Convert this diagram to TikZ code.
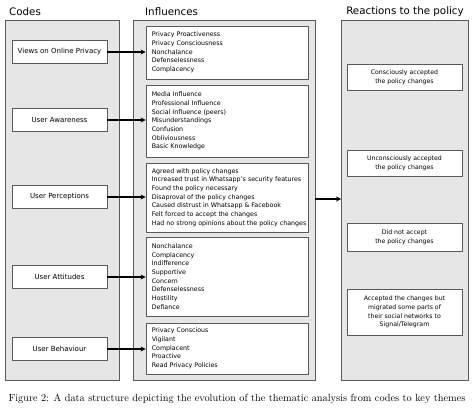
\documentclass[tikz,border=0pt]{standalone}
\usepackage{fontspec}
\setmainfont{DejaVu Sans}
\newfontfamily\capfont{Latin Modern Roman}
\usetikzlibrary{arrows.meta}
\definecolor{panelgray}{HTML}{E6E6E6}
\definecolor{edgegray}{HTML}{5A5A5A}
\begin{document}
\begin{tikzpicture}[x=1pt,y=-1pt,
  panel/.style={draw=edgegray,fill=panelgray,line width=0.8pt},
  codebox/.style={draw=edgegray,fill=white,line width=0.8pt,minimum width=95pt,minimum height=23pt,inner sep=0pt,font=\fontsize{7}{8}\selectfont},
  inflbox/.style={draw=edgegray,fill=white,line width=0.8pt,minimum width=162pt,inner sep=0pt},
  infltext/.style={anchor=west,inner sep=0pt,align=left,font=\fontsize{6.3}{8.7}\selectfont},
  reactbox/.style={draw=edgegray,fill=white,line width=0.8pt,minimum width=115pt,inner sep=0pt,align=center,font=\fontsize{6.2}{8.7}\selectfont},
  title/.style={font=\fontsize{10.3}{12}\selectfont,inner sep=0pt},
  link/.style={-{Stealth[length=5pt,width=5pt]},line width=1.4pt,black}]
\useasboundingbox (0,0) rectangle (474,409);
% panels
\path[panel] (5,20) rectangle (119,380);
\path[panel] (133,20) rectangle (315,380);
\path[panel] (341,20) rectangle (468,380);
\coordinate (pinfl) at (315,199);
\coordinate (preac) at (341,199);
% titles
\node[title,anchor=west] (tcodes) at (9,12) {Codes};
\node[title,anchor=west] (tinfl) at (145,12) {Influences};
\node[title] (treac) at (405,12) {Reactions to the policy};
% code boxes
\node[codebox] (c1) at (59.5,52) {Views on Online Privacy};
\node[codebox] (c2) at (59.5,120) {User Awareness};
\node[codebox] (c3) at (59.5,197) {User Perceptions};
\node[codebox] (c4) at (59.5,277) {User Attitudes};
\node[codebox] (c5) at (59.5,349) {User Behaviour};
% influence boxes
\node[inflbox,minimum height=53pt] (i1) at (227,52.5) {};
\node[infltext] (t1) at ([xshift=6pt]i1.west) {Privacy Proactiveness\\Privacy Consciousness\\Nonchalance\\Defenselessness\\Complacency};
\node[inflbox,minimum height=72pt] (i2) at (227,121) {};
\node[infltext] (t2) at ([xshift=6pt]i2.west) {Media Influence\\Professional Influence\\Social Influence (peers)\\Misunderstandings\\Confusion\\Obliviousness\\Basic Knowledge};
\node[inflbox,minimum height=69pt] (i3) at (227,197.5) {};
\node[infltext] (t3) at ([xshift=6pt]i3.west) {Agreed with policy changes\\Increased trust in Whatsapp's security features\\Found the policy necessary\\Disaproval of the policy changes\\Caused distrust in Whatsapp \& Facebook\\Felt forced to accept the changes\\Had no strong opinions about the policy changes};
\node[inflbox,minimum height=79pt] (i4) at (227,276.5) {};
\node[infltext] (t4) at ([xshift=6pt]i4.west) {Nonchalance\\Complacency\\Indifference\\Supportive\\Concern\\Defenselessness\\Hostility\\Defiance};
\node[inflbox,minimum height=51pt] (i5) at (227,348.5) {};
\node[infltext] (t5) at ([xshift=6pt]i5.west) {Privacy Conscious\\Vigilant\\Complacent\\Proactive\\Read Privacy Policies};
% reaction boxes
\node[reactbox,minimum height=26pt] (r1) at (404.5,77) {Consciously accepted\\the policy changes};
\node[reactbox,minimum height=26pt] (r2) at (404.5,163) {Unconsciously accepted\\the policy changes};
\node[reactbox,minimum height=28pt] (r3) at (404.5,237) {Did not accept\\the policy changes};
\node[reactbox,minimum height=46pt] (r4) at (404.5,312) {Accepted the changes but\\migrated some parts of\\their social networks to\\Signal/Telegram};
% arrows
\draw[link] (c1.east) -- (c1.east -| i1.west);
\draw[link] (c2.east) -- (c2.east -| i2.west);
\draw[link] (c3.east) -- (c3.east -| i3.west);
\draw[link] (c4.east) -- (c4.east -| i4.west);
\draw[link] (c5.east) -- (c5.east -| i5.west);
\draw[link] (pinfl) -- (preac);
% caption
\node[inner sep=0pt,font=\capfont\fontsize{10.3}{11}\selectfont] (cap) at (237,399) {Figure 2: A data structure depicting the evolution of the thematic analysis from codes to key themes};
\end{tikzpicture}
\end{document}
